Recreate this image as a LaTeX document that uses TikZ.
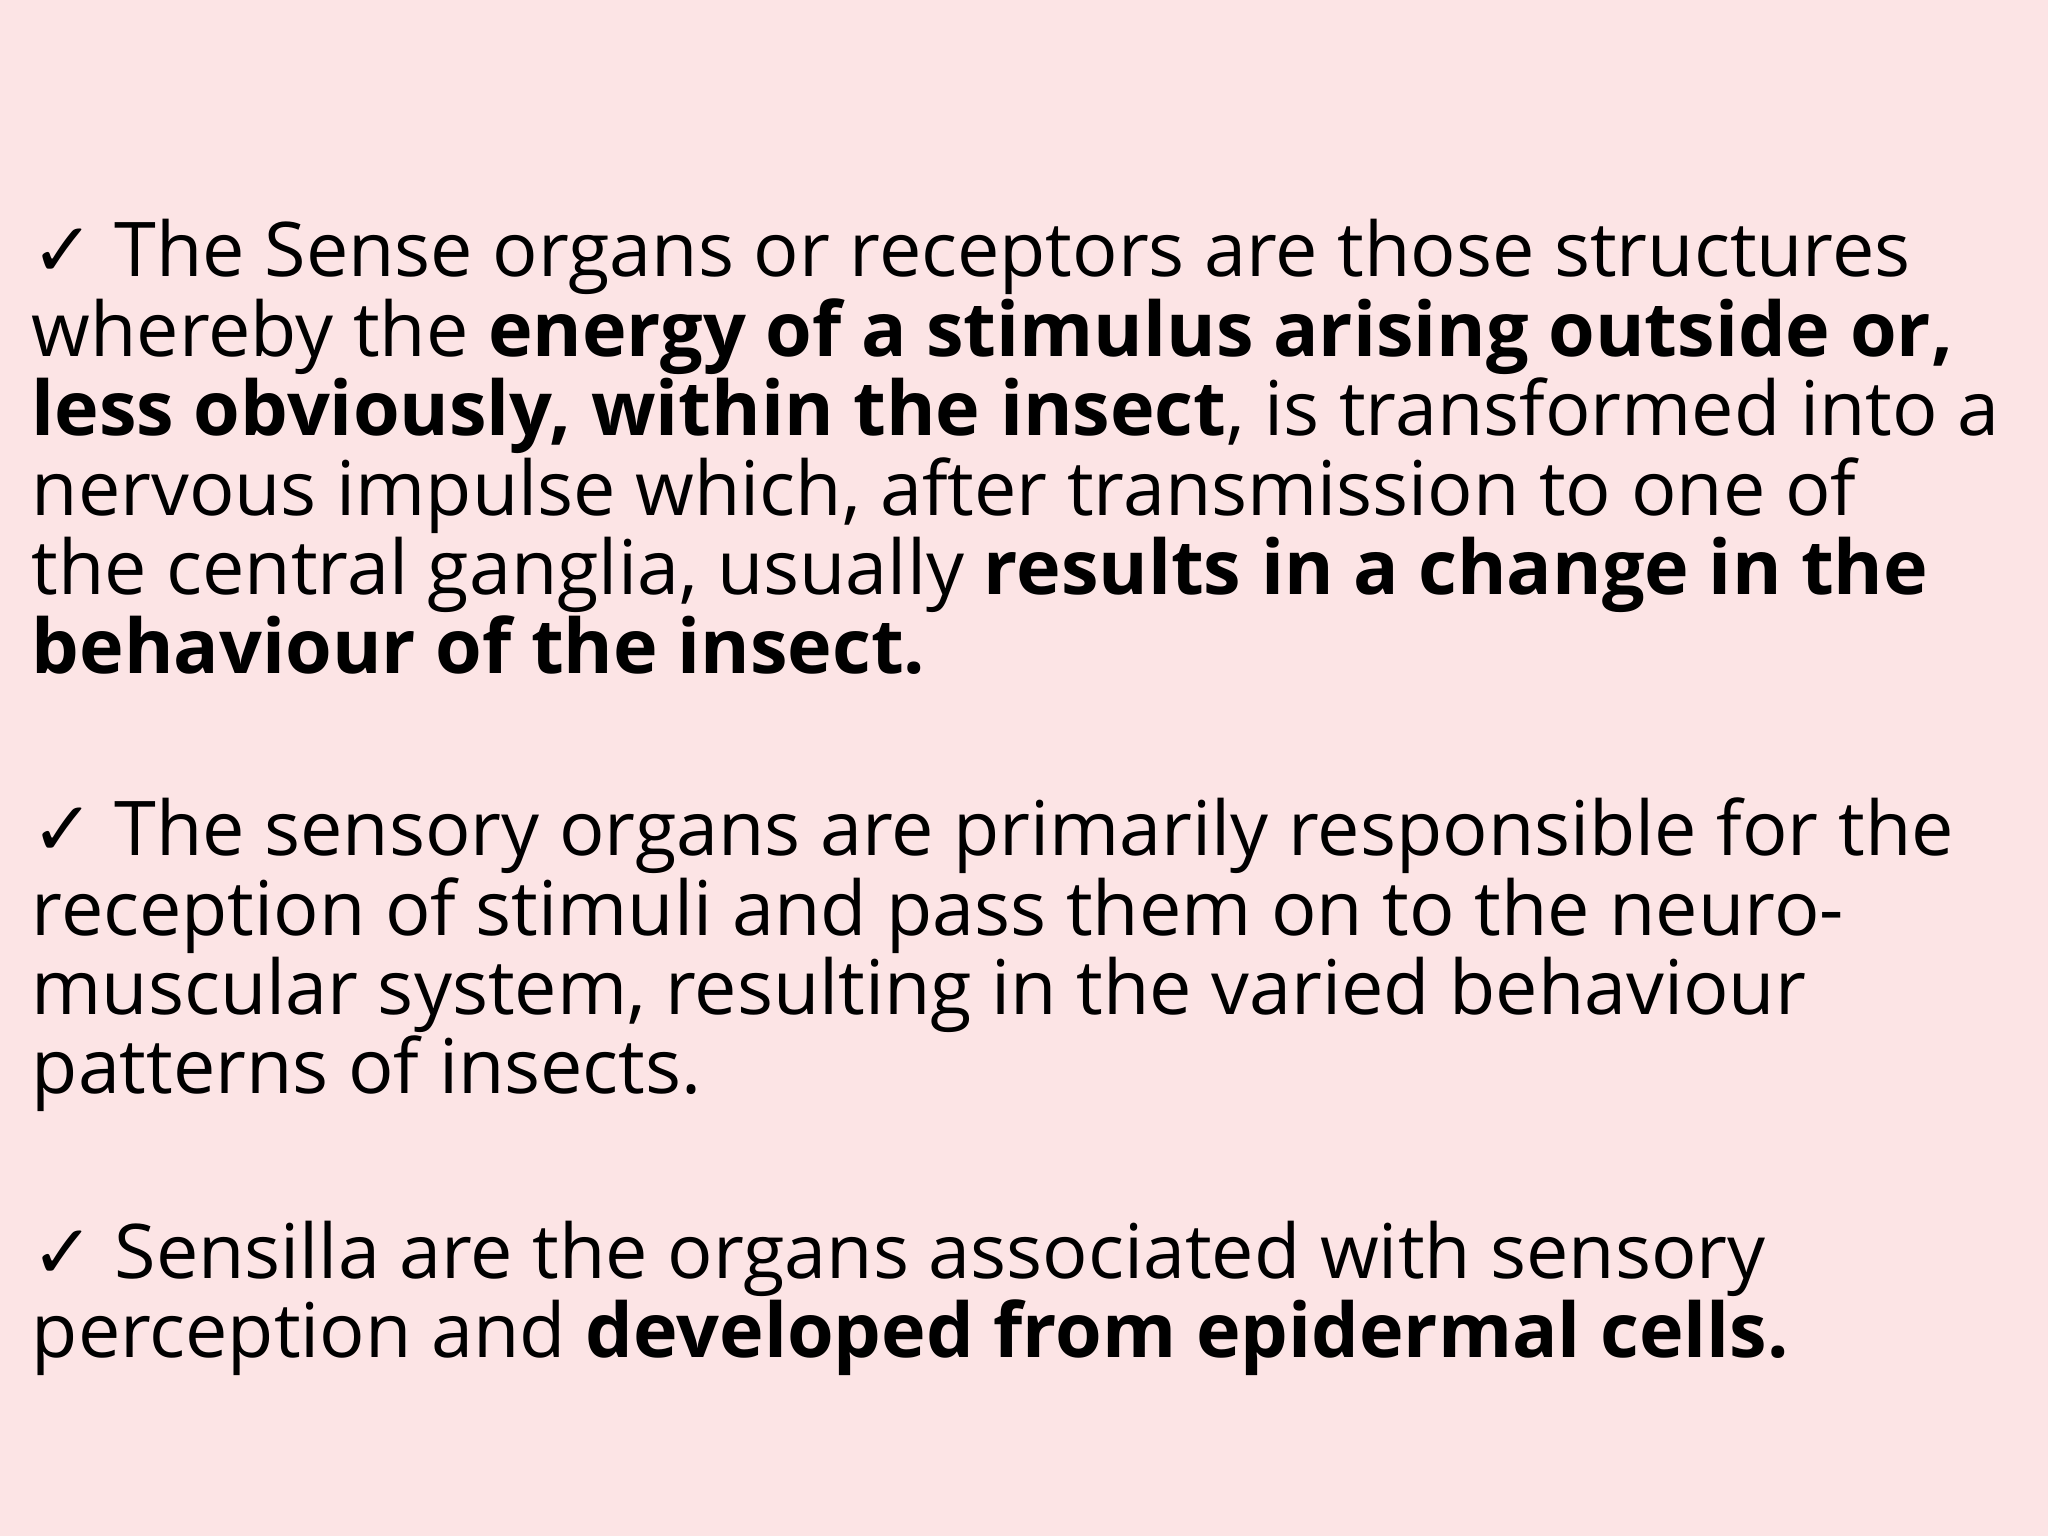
\documentclass[tikz,border=0pt]{standalone}
\usepackage{fontspec}
\setmainfont{Open Sans}
\newfontfamily\symfont{DejaVu Sans}
\definecolor{bg}{HTML}{FCE4E5}
\begin{document}
\begin{tikzpicture}[x=1pt,y=1pt,
  para/.style={anchor=north west,align=left,inner sep=0pt,font=\fontsize{21.4}{21.2}\selectfont}]
\fill[bg] (0,0) rectangle (580.6,-435.5);
\useasboundingbox (0,0) rectangle (580.6,-435.5);
\node[para] (p1) at (8.8,-62) {{\symfont ✓} The Sense organs or receptors are those structures\\
whereby the \textbf{energy of a stimulus arising outside or,}\\
\textbf{less obviously, within the insect}, is transformed into a\\
nervous impulse which, after transmission to one of\\
the central ganglia, usually \textbf{results in a change in the}\\
\textbf{behaviour of the insect.}};
\node[para] (p2) at (8.8,-226) {{\symfont ✓} The sensory organs are primarily responsible for the\\
reception of stimuli and pass them on to the neuro-\\
muscular system, resulting in the varied behaviour\\
patterns of insects.};
\node[para] (p3) at (8.8,-346) {{\symfont ✓} Sensilla are the organs associated with sensory\\
perception and \textbf{developed from epidermal cells.}};
\end{tikzpicture}
\end{document}
